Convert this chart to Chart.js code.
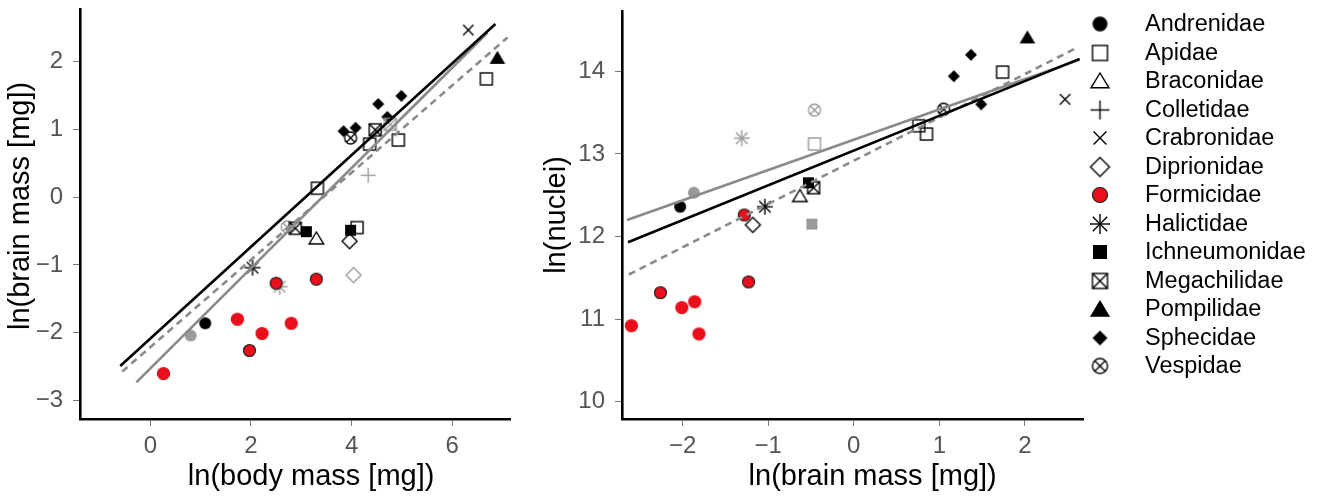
<!DOCTYPE html>
<html>
<head>
<meta charset="utf-8">
<script src="https://cdn.jsdelivr.net/npm/chart.js@4.4.1/dist/chart.umd.min.js"></script>
<style>
  body { margin: 0; background: #fff; font-family: "Liberation Sans", Arial, sans-serif; }
  #wrap { position: relative; width: 1320px; height: 500px; overflow: hidden; }
  #left { position: absolute; left: 0; top: 0; }
  #right { position: absolute; left: 536px; top: 0; }
  #legend { position: absolute; left: 1080px; top: 0; width: 240px; }
  .row { position: absolute; left: 0; height: 28px; width: 240px; }
  .row canvas { position: absolute; top: 50%; transform: translate(-50%, -50%); left: 20px; }
  .row span { position: absolute; left: 65px; top: 50%; transform: translateY(-52%); font-size: 23.5px; color: #000; white-space: nowrap; }
</style>
</head>
<body>
<div id="wrap">
  <canvas id="left" width="520" height="500"></canvas>
  <canvas id="right" width="554" height="500"></canvas>
  <div id="legend"></div>
</div>
<script>
// families in legend order
const families = ["Andrenidae", "Apidae", "Braconidae", "Colletidae", "Crabronidae", "Diprionidae",
  "Formicidae", "Halictidae", "Ichneumonidae", "Megachilidae", "Pompilidae", "Sphecidae", "Vespidae"];

// Left panel: [ln body mass, ln brain mass, group]  (group 0 = black, 1 = grey)
const bodyAndrenidae = [[1.09, -1.86, 0], [0.80, -2.04, 1]];
const bodyApidae = [[6.68, 1.74, 0], [4.36, 0.78, 0], [4.93, 0.84, 0], [3.32, 0.13, 0], [4.11, -0.45, 0]];
const bodyBraconidae = [[3.30, -0.61, 0]];
const bodyColletidae = [[4.33, 0.32, 1]];
const bodyCrabronidae = [[6.32, 2.46, 0]];
const bodyDiprionidae = [[3.96, -0.65, 0], [4.04, -1.15, 1]];
const bodyFormicidae = [[2.50, -1.27, 0], [3.30, -1.21, 0], [1.97, -2.26, 0],
  [1.73, -1.80, 1], [2.80, -1.86, 1], [2.22, -2.01, 1], [0.26, -2.60, 1]];
const bodyHalictidae = [[2.03, -1.04, 0], [2.57, -1.32, 1]];
const bodyIchneumonidae = [[3.10, -0.51, 0], [3.98, -0.49, 0]];
const bodyMegachilidae = [[2.88, -0.46, 0], [4.47, 0.99, 0], [4.77, 1.07, 1]];
const bodyPompilidae = [[6.90, 2.05, 0]];
const bodySphecidae = [[4.53, 1.37, 0], [4.99, 1.49, 0], [4.71, 1.18, 0], [3.84, 0.97, 0], [4.08, 1.02, 0]];
const bodyVespidae = [[3.98, 0.87, 0], [2.72, -0.44, 1]];

// Right panel: [ln brain mass, ln nuclei, group]
const brainAndrenidae = [[-2.03, 12.36, 0], [-1.87, 12.53, 1]];
const brainApidae = [[1.74, 13.99, 0], [0.76, 13.34, 0], [0.85, 13.24, 0], [-0.46, 13.12, 1]];
const brainBraconidae = [[-0.63, 12.49, 0]];
const brainColletidae = [];
const brainCrabronidae = [[2.47, 13.66, 0]];
const brainDiprionidae = [[-1.18, 12.14, 0]];
const brainFormicidae = [[-1.28, 12.26, 0], [-1.23, 11.45, 0], [-2.26, 11.32, 0],
  [-2.01, 11.14, 1], [-1.86, 11.21, 1], [-1.81, 10.82, 1], [-2.60, 10.92, 1]];
const brainHalictidae = [[-1.04, 12.36, 0], [-1.31, 13.19, 1]];
const brainIchneumonidae = [[-0.53, 12.65, 0], [-0.49, 12.15, 1]];
const brainMegachilidae = [[-0.47, 12.59, 0]];
const brainPompilidae = [[2.03, 14.41, 0]];
const brainSphecidae = [[1.37, 14.20, 0], [1.17, 13.94, 0], [1.49, 13.60, 0]];
const brainVespidae = [[1.05, 13.54, 0], [-0.46, 13.53, 1]];

// fitted lines (end points)
const leftFitBlack = [[-0.60, -2.49], [6.86, 2.55]];
const leftFitGrey = [[-0.28, -2.73], [6.70, 2.42]];
const leftFitDashed = [[-0.56, -2.57], [7.10, 2.35]];
const rightFitBlack = [[-2.64, 11.93], [2.64, 14.15]];
const rightFitGrey = [[-2.65, 12.20], [2.64, 14.14]];
const rightFitDashed = [[-2.63, 11.54], [2.60, 14.28]];

// ticks
const leftXTicks = [0, 2, 4, 6];
const leftYTicks = [-3, -2, -1, 0, 1, 2];
const rightXTicks = [-2, -1, 0, 1, 2];
const rightYTicks = [10, 11, 12, 13, 14];

const FONT = "'Liberation Sans', Arial, sans-serif";
const BLACK = "#000";
const GREY = "#9a9a9a";
const RED = "#ea0f1a";

const shapes = {
  Andrenidae: ["dot", 12], Apidae: ["square", 12], Braconidae: ["triangle", 13], Colletidae: ["plus", 15],
  Crabronidae: ["cross", 13], Diprionidae: ["diamond", 15], Formicidae: ["red", 13], Halictidae: ["star", 16],
  Ichneumonidae: ["box", 11], Megachilidae: ["boxX", 12], Pompilidae: ["tri", 14], Sphecidae: ["gem", 12],
  Vespidae: ["circleX", 12]
};

// draw one marker symbol into a small canvas (used as pointStyle)
function makeMarker(shape, color, s) {
  const n = Math.ceil(s + 6);
  const c = document.createElement("canvas");
  c.width = n; c.height = n;
  const g = c.getContext("2d");
  const m = n / 2, r = s / 2;
  g.strokeStyle = color; g.fillStyle = color; g.lineWidth = 1.4;
  const line = (x1, y1, x2, y2) => { g.beginPath(); g.moveTo(x1, y1); g.lineTo(x2, y2); g.stroke(); };
  const tri = () => { g.beginPath(); g.moveTo(m, m - r); g.lineTo(m + r * 1.12, m + r * 0.85); g.lineTo(m - r * 1.12, m + r * 0.85); g.closePath(); };
  const dia = () => { g.beginPath(); g.moveTo(m, m - r); g.lineTo(m + r, m); g.lineTo(m, m + r); g.lineTo(m - r, m); g.closePath(); };
  switch (shape) {
    case "dot": g.beginPath(); g.arc(m, m, r, 0, Math.PI * 2); g.fill(); break;
    case "red":
      g.beginPath(); g.arc(m, m, r - 0.5, 0, Math.PI * 2); g.fillStyle = RED; g.fill();
      g.strokeStyle = color === BLACK ? "#222" : RED; g.lineWidth = 1.2; g.stroke(); break;
    case "square": g.strokeRect(m - r, m - r, s, s); break;
    case "triangle": tri(); g.stroke(); break;
    case "plus": line(m - r, m, m + r, m); line(m, m - r, m, m + r); break;
    case "cross": { const k = r * 0.8; line(m - k, m - k, m + k, m + k); line(m - k, m + k, m + k, m - k); break; }
    case "diamond": dia(); g.stroke(); break;
    case "star": { const k = r * 0.72; line(m - r, m, m + r, m); line(m, m - r, m, m + r);
      line(m - k, m - k, m + k, m + k); line(m - k, m + k, m + k, m - k); break; }
    case "box": g.fillRect(m - r, m - r, s, s); break;
    case "boxX": g.strokeRect(m - r, m - r, s, s); line(m - r, m - r, m + r, m + r); line(m - r, m + r, m + r, m - r); break;
    case "tri": tri(); g.fill(); break;
    case "gem": dia(); g.fill(); break;
    case "circleX": { g.beginPath(); g.arc(m, m, r, 0, Math.PI * 2); g.stroke(); const k = r * 0.707;
      line(m - k, m - k, m + k, m + k); line(m - k, m + k, m + k, m - k); break; }
  }
  return c;
}

const markers = {};
families.forEach(f => {
  const [shape, size] = shapes[f];
  markers[f] = [makeMarker(shape, BLACK, size), makeMarker(shape, GREY, size)];
});

const leftData = {
  Andrenidae: bodyAndrenidae, Apidae: bodyApidae, Braconidae: bodyBraconidae, Colletidae: bodyColletidae,
  Crabronidae: bodyCrabronidae, Diprionidae: bodyDiprionidae, Formicidae: bodyFormicidae, Halictidae: bodyHalictidae,
  Ichneumonidae: bodyIchneumonidae, Megachilidae: bodyMegachilidae, Pompilidae: bodyPompilidae,
  Sphecidae: bodySphecidae, Vespidae: bodyVespidae
};
const rightData = {
  Andrenidae: brainAndrenidae, Apidae: brainApidae, Braconidae: brainBraconidae, Colletidae: brainColletidae,
  Crabronidae: brainCrabronidae, Diprionidae: brainDiprionidae, Formicidae: brainFormicidae, Halictidae: brainHalictidae,
  Ichneumonidae: brainIchneumonidae, Megachilidae: brainMegachilidae, Pompilidae: brainPompilidae,
  Sphecidae: brainSphecidae, Vespidae: brainVespidae
};

function pointSets(table) {
  return families.filter(f => table[f].length).map(f => ({
    label: f,
    data: table[f].map(p => ({ x: p[0], y: p[1] })),
    pointStyle: table[f].map(p => markers[f][p[2]]),
    pointRadius: 6,
    showLine: false,
    order: 1
  }));
}

function fitLine(pts, color, dash) {
  return {
    label: "fit",
    data: pts.map(p => ({ x: p[0], y: p[1] })),
    showLine: true,
    pointRadius: 0,
    borderColor: color,
    borderWidth: 2.6,
    borderDash: dash || [],
    order: 0
  };
}

const fmt = v => (v < 0 ? "\u2212" + Math.abs(v) : String(v));

function axis(title, min, max, ticks, fit, isX) {
  return {
    type: "linear",
    min: min, max: max,
    afterBuildTicks: s => { s.ticks = ticks.map(v => ({ value: v })); },
    afterFit: s => {
      // fixed axis box, no extra label overhang padding
      if (isX) { s.height = fit; s.paddingLeft = 0; s.paddingRight = 0; }
      else { s.width = fit; s.paddingTop = 0; s.paddingBottom = 0; }
    },
    border: { display: true, color: "#000", width: 2.6 },
    grid: { display: true, drawOnChartArea: false, drawTicks: true, tickLength: 7, tickColor: "#777", lineWidth: 1 },
    ticks: { callback: v => fmt(v), color: "#555", font: { family: FONT, size: 24 }, padding: isX ? 6 : 10, autoSkip: false, maxRotation: 0 },
    title: { display: true, text: title, color: "#000", font: { family: FONT, size: 29 }, padding: { top: 4, bottom: 4 } }
  };
}

function makeChart(id, table, fits, xAx, yAx, pad) {
  return new Chart(document.getElementById(id), {
    type: "scatter",
    data: { datasets: pointSets(table).concat(fits) },
    options: {
      responsive: false,
      animation: false,
      events: [],
      layout: { padding: pad },
      plugins: { legend: { display: false }, tooltip: { enabled: false } },
      scales: { x: xAx, y: yAx }
    }
  });
}

makeChart("left", leftData,
  [fitLine(leftFitBlack, BLACK), fitLine(leftFitGrey, "#8a8a8a"), fitLine(leftFitDashed, "#8a8a8a", [7, 5])],
  axis("    ln(body mass [mg])", -1.4, 7.15, leftXTicks, 79, true),
  axis("  ln(brain mass [mg])", -3.27, 2.77, leftYTicks, 80, false),
  { left: 0, top: 9, right: 10, bottom: 2 });

makeChart("right", rightData,
  [fitLine(rightFitBlack, BLACK), fitLine(rightFitGrey, "#8a8a8a"), fitLine(rightFitDashed, "#8a8a8a", [7, 5])],
  axis("     ln(brain mass [mg])", -2.71, 2.68, rightXTicks, 79, true),
  axis("ln(nuclei)", 9.79, 14.73, rightYTicks, 86, false),
  { left: 0, top: 11, right: 7, bottom: 2 });

// legend
const legendBox = document.getElementById("legend");
families.forEach((f, i) => {
  const row = document.createElement("div");
  row.className = "row";
  row.style.top = (24 + i * 28.5 - 14) + "px";
  const [shape, size] = shapes[f];
  row.appendChild(makeMarker(shape, BLACK, Math.round(size * 1.25)));
  const t = document.createElement("span");
  t.textContent = f;
  row.appendChild(t);
  legendBox.appendChild(row);
});
</script>
</body>
</html>
